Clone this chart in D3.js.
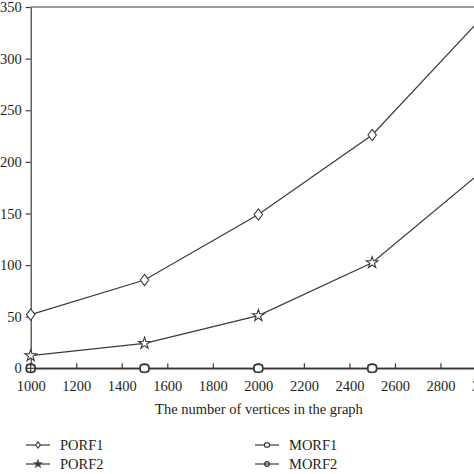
<!DOCTYPE html>
<html><head><meta charset="utf-8">
<script src="https://cdn.jsdelivr.net/npm/d3@7"></script>
<style>
html,body{margin:0;padding:0;background:#fff;overflow:hidden}
svg{display:block}
text{font-family:"Liberation Serif","DejaVu Serif",serif;fill:#231f20}
</style></head>
<body>
<script>
const vertices = [1000, 1500, 2000, 2500, 3000];
const porf1 = [52, 85.5, 149, 226, 344];
const porf2 = [12.2, 24.2, 51, 102.3, 194];
const morf1 = [0, 0, 0, 0, 0];
const morf2 = [0, 0, 0, 0, 0];
const xTicks = [1000, 1200, 1400, 1600, 1800, 2000, 2200, 2400, 2600, 2800, 3000];
const yTicks = [0, 50, 100, 150, 200, 250, 300, 350];
const seriesNames = ["PORF1", "PORF2", "MORF1", "MORF2"];
const xTitle = "The number of vertices in the graph";

const W = 474, H = 474;
const ink = "#3a3a3a";
const svg = d3.select("body").append("svg").attr("width", W).attr("height", H);

const x = d3.scaleLinear().domain([1000, 3000]).range([30.7, 486]);
const y = d3.scaleLinear().domain([0, 350]).range([368.3, 7]);

// frame top line
svg.append("line").attr("x1", x(1000)).attr("x2", x(3000)).attr("y1", y(350)).attr("y2", y(350))
  .attr("stroke", ink).attr("stroke-width", 1.2);

// x axis (ticks inward)
const gx = svg.append("g").attr("transform", `translate(0,${y(0)})`)
  .call(d3.axisBottom(x).tickValues(xTicks).tickSizeInner(-5).tickSizeOuter(0).tickPadding(12).tickFormat(d3.format("d")));
gx.select(".domain").attr("stroke", ink).attr("stroke-width", 1.2);
gx.selectAll(".tick line").attr("stroke", ink).attr("stroke-width", 1.2);
gx.selectAll(".tick text").attr("font-size", 14.5).attr("fill", "#231f20").attr("font-family", "Liberation Serif, serif");

// y axis (ticks outward)
const gy = svg.append("g").attr("transform", `translate(${x(1000)},0)`)
  .call(d3.axisLeft(y).tickValues(yTicks).tickSizeInner(5).tickSizeOuter(0).tickPadding(4).tickFormat(d3.format("d")));
gy.select(".domain").attr("stroke", ink).attr("stroke-width", 1.2);
gy.selectAll(".tick line").attr("stroke", ink).attr("stroke-width", 1.2);
gy.selectAll(".tick text").attr("font-size", 14.5).attr("fill", "#231f20").attr("font-family", "Liberation Serif, serif");

// x title
svg.append("text").attr("x", 259).attr("y", 414).attr("text-anchor", "middle")
  .attr("font-size", 14.5).text(xTitle);

const line = d3.line().x((d, i) => x(vertices[i])).y(d => y(d));
const allSeries = [porf1, porf2, morf1, morf2];
allSeries.forEach(s => {
  svg.append("path").attr("d", line(s)).attr("fill", "none").attr("stroke", ink).attr("stroke-width", 1.2);
});

function drawMarker(g, type, cx, cy, sc, filled) {
  const st = ink;
  if (type === 0) {
    const w = 4.2 * sc, h = 5.6 * sc;
    g.append("path").attr("d", `M${cx},${cy - h}L${cx + w},${cy}L${cx},${cy + h}L${cx - w},${cy}Z`)
      .attr("fill", "#fff").attr("stroke", st).attr("stroke-width", 1.1);
  } else if (type === 1) {
    g.append("path").attr("d", d3.symbol().type(d3.symbolStar).size(filled ? 22 : 42 * sc * sc)())
      .attr("transform", `translate(${cx},${cy})`)
      .attr("fill", filled ? st : "#fff").attr("stroke", st).attr("stroke-width", filled ? 0.6 : 1.1);
  } else if (type === 2) {
    const s = 4.5 * sc;
    g.append("rect").attr("x", cx - s).attr("y", cy - s * 0.85).attr("width", 2 * s).attr("height", 1.7 * s)
      .attr("rx", 2.5 * sc).attr("fill", "#fff").attr("stroke", st).attr("stroke-width", 1.3);
  } else {
    g.append("circle").attr("cx", cx).attr("cy", cy).attr("r", 4.3 * sc)
      .attr("fill", "none").attr("stroke", st).attr("stroke-width", 1.3);
  }
}

const mg = svg.append("g");
allSeries.forEach((s, k) => {
  s.forEach((v, i) => drawMarker(mg, k, x(vertices[i]), y(v), 1, false));
});
// axis lines through the zero markers at x=1000
mg.append("line").attr("x1", x(1000)).attr("x2", x(1000)).attr("y1", y(0) - 5).attr("y2", y(0) + 5).attr("stroke", ink).attr("stroke-width", 1.2);
mg.append("line").attr("x1", x(1000) - 5).attr("x2", x(1000) + 5).attr("y1", y(0)).attr("y2", y(0)).attr("stroke", ink).attr("stroke-width", 1.2);

// legend
const legPos = [[26, 445], [26, 464], [255, 445], [255, 464]];
seriesNames.forEach((name, k) => {
  const [lx, ly] = legPos[k];
  const lg = svg.append("g");
  lg.append("line").attr("x1", lx).attr("x2", lx + 24).attr("y1", ly).attr("y2", ly).attr("stroke", ink).attr("stroke-width", 1.2);
  drawMarker(lg, k, lx + 12, ly, 0.55, k === 1);
  lg.append("text").attr("x", lx + 34).attr("y", ly + 5).attr("font-size", 14.5).text(name);
});
</script>
</body></html>
